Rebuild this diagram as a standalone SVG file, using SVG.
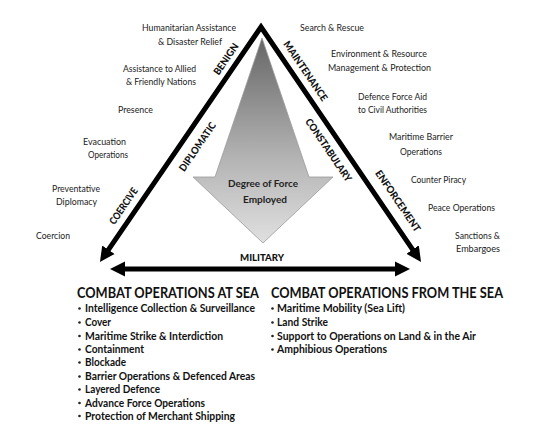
<svg xmlns="http://www.w3.org/2000/svg" width="546" height="427" viewBox="0 0 546 427">
<defs>
<style>
.sm{font-family:Lato,"Open Sans","Liberation Sans",sans-serif;font-size:9px;fill:#222;text-anchor:middle}
.lbl{font-family:Lato,"Open Sans","Liberation Sans",sans-serif;font-size:10px;font-weight:900;fill:#111;text-anchor:middle}
.hd{font-family:Lato,"Open Sans","Liberation Sans",sans-serif;font-size:15px;font-weight:bold;fill:#111}
.bl{font-family:Lato,"Open Sans","Liberation Sans",sans-serif;font-size:11px;font-weight:bold;fill:#111}
.ln{fill:none;stroke:#000;stroke-width:5;stroke-linejoin:miter;stroke-miterlimit:10}
.dot{fill:#222}
</style>
<marker id="ah" markerUnits="userSpaceOnUse" markerWidth="20" markerHeight="20" viewBox="0 -10 20 20" refX="5" refY="0" orient="auto-start-reverse">
<path d="M0,-7.5 L15,0 L0,7.5 z" fill="#000"/>
</marker>
<linearGradient id="gg" gradientUnits="userSpaceOnUse" x1="0" y1="38" x2="0" y2="243">
<stop offset="0" stop-color="#666"/>
<stop offset="0.6" stop-color="#b5b5b5"/>
<stop offset="1" stop-color="#e0e0e0"/>
</linearGradient>
</defs>
<rect width="546" height="427" fill="#fff"/>

<g id="force-arrow">
<polygon points="262,38 309,177 333,177 263,243 193,177 215,177" fill="url(#gg)" stroke="#9a9a9a" stroke-width="0.8"/>
<text class="sm" x="263" y="187" font-size="11" font-weight="bold" textLength="70" lengthAdjust="spacingAndGlyphs">Degree of Force</text>
<text class="sm" x="265" y="203" font-size="11" font-weight="bold" textLength="44" lengthAdjust="spacingAndGlyphs">Employed</text>
</g>

<g id="connectors">
<polyline class="ln" points="105.6,253.8 261,27 415.4,253.7" marker-start="url(#ah)" marker-end="url(#ah)"/>
<line class="ln" x1="120" y1="269" x2="400" y2="269" marker-start="url(#ah)" marker-end="url(#ah)"/>
</g>

<g id="edge-labels">
<text class="lbl" transform="translate(226,59) rotate(-55.6)" dy="0.35em" textLength="36" lengthAdjust="spacingAndGlyphs">BENIGN</text>
<text class="lbl" transform="translate(197.5,146.7) rotate(-55.6)" dy="0.35em" textLength="57" lengthAdjust="spacingAndGlyphs">DIPLOMATIC</text>
<text class="lbl" transform="translate(123.5,206) rotate(-55.6)" dy="0.35em" textLength="42" lengthAdjust="spacingAndGlyphs">COERCIVE</text>
<text class="lbl" transform="translate(305.5,71) rotate(55.7)" dy="0.35em" textLength="70" lengthAdjust="spacingAndGlyphs">MAINTENANCE</text>
<text class="lbl" transform="translate(328.5,150) rotate(55.7)" dy="0.35em" textLength="74" lengthAdjust="spacingAndGlyphs">CONSTABULARY</text>
<text class="lbl" transform="translate(398,201) rotate(55.7)" dy="0.35em" textLength="72" lengthAdjust="spacingAndGlyphs">ENFORCEMENT</text>
<text class="lbl" x="262" y="261" textLength="44" lengthAdjust="spacingAndGlyphs">MILITARY</text>
</g>

<g id="left-tasks">
<text class="sm" x="189" y="31" textLength="94" lengthAdjust="spacingAndGlyphs">Humanitarian Assistance</text>
<text class="sm" x="190" y="45" textLength="64" lengthAdjust="spacingAndGlyphs">&amp; Disaster Relief</text>
<text class="sm" x="159.5" y="72" textLength="73" lengthAdjust="spacingAndGlyphs">Assistance to Allied</text>
<text class="sm" x="161" y="85" textLength="70" lengthAdjust="spacingAndGlyphs">&amp; Friendly Nations</text>
<text class="sm" x="135.5" y="113" textLength="35" lengthAdjust="spacingAndGlyphs">Presence</text>
<text class="sm" x="104.5" y="145" textLength="43" lengthAdjust="spacingAndGlyphs">Evacuation</text>
<text class="sm" x="108" y="158" textLength="40" lengthAdjust="spacingAndGlyphs">Operations</text>
<text class="sm" x="76" y="192" textLength="48" lengthAdjust="spacingAndGlyphs">Preventative</text>
<text class="sm" x="76.5" y="205" textLength="41" lengthAdjust="spacingAndGlyphs">Diplomacy</text>
<text class="sm" x="53" y="239" textLength="34" lengthAdjust="spacingAndGlyphs">Coercion</text>
</g>

<g id="right-tasks">
<text class="sm" x="332" y="31" textLength="64" lengthAdjust="spacingAndGlyphs">Search &amp; Rescue</text>
<text class="sm" x="379" y="57" textLength="96" lengthAdjust="spacingAndGlyphs">Environment &amp; Resource</text>
<text class="sm" x="379.5" y="71" textLength="103" lengthAdjust="spacingAndGlyphs">Management &amp; Protection</text>
<text class="sm" x="392.5" y="100" textLength="69" lengthAdjust="spacingAndGlyphs">Defence Force Aid</text>
<text class="sm" x="392.5" y="113" textLength="69" lengthAdjust="spacingAndGlyphs">to Civil Authorities</text>
<text class="sm" x="421" y="140" textLength="64" lengthAdjust="spacingAndGlyphs">Maritime Barrier</text>
<text class="sm" x="421" y="155" textLength="42" lengthAdjust="spacingAndGlyphs">Operations</text>
<text class="sm" x="438.5" y="183" textLength="55" lengthAdjust="spacingAndGlyphs">Counter Piracy</text>
<text class="sm" x="461.5" y="211" textLength="67" lengthAdjust="spacingAndGlyphs">Peace Operations</text>
<text class="sm" x="477.5" y="239" textLength="45" lengthAdjust="spacingAndGlyphs">Sanctions &amp;</text>
<text class="sm" x="478" y="252" textLength="44" lengthAdjust="spacingAndGlyphs">Embargoes</text>
</g>

<g id="combat-at-sea">
<text class="hd" x="77" y="298" textLength="182" lengthAdjust="spacingAndGlyphs">COMBAT OPERATIONS AT SEA</text>
<circle class="dot" cx="79.5" cy="308.5" r="1.3"/>
<circle class="dot" cx="79.5" cy="322.5" r="1.3"/>
<circle class="dot" cx="79.5" cy="336" r="1.3"/>
<circle class="dot" cx="79.5" cy="349.5" r="1.3"/>
<circle class="dot" cx="79.5" cy="362.5" r="1.3"/>
<circle class="dot" cx="79.5" cy="376.5" r="1.3"/>
<circle class="dot" cx="79.5" cy="389.5" r="1.3"/>
<circle class="dot" cx="79.5" cy="403" r="1.3"/>
<circle class="dot" cx="79.5" cy="416" r="1.3"/>
<g class="bl">
<text x="85" y="312" textLength="170" lengthAdjust="spacingAndGlyphs">Intelligence Collection &amp; Surveillance</text>
<text x="85" y="326" textLength="26" lengthAdjust="spacingAndGlyphs">Cover</text>
<text x="85" y="339.5" textLength="138" lengthAdjust="spacingAndGlyphs">Maritime Strike &amp; Interdiction</text>
<text x="85" y="353" textLength="59" lengthAdjust="spacingAndGlyphs">Containment</text>
<text x="85" y="366" textLength="41" lengthAdjust="spacingAndGlyphs">Blockade</text>
<text x="85" y="380" textLength="170" lengthAdjust="spacingAndGlyphs">Barrier Operations &amp; Defenced Areas</text>
<text x="85" y="393" textLength="75" lengthAdjust="spacingAndGlyphs">Layered Defence</text>
<text x="85" y="406.5" textLength="120" lengthAdjust="spacingAndGlyphs">Advance Force Operations</text>
<text x="85" y="419.5" textLength="150" lengthAdjust="spacingAndGlyphs">Protection of Merchant Shipping</text>
</g>
</g>

<g id="combat-from-sea">
<text class="hd" x="271" y="298" textLength="232" lengthAdjust="spacingAndGlyphs">COMBAT OPERATIONS FROM THE SEA</text>
<circle class="dot" cx="272.5" cy="308.5" r="1.3"/>
<circle class="dot" cx="272.5" cy="322.5" r="1.3"/>
<circle class="dot" cx="272.5" cy="336" r="1.3"/>
<circle class="dot" cx="272.5" cy="349.5" r="1.3"/>
<g class="bl">
<text x="277" y="312" textLength="128" lengthAdjust="spacingAndGlyphs">Maritime Mobility (Sea Lift)</text>
<text x="277" y="326" textLength="51" lengthAdjust="spacingAndGlyphs">Land Strike</text>
<text x="277" y="339.5" textLength="199" lengthAdjust="spacingAndGlyphs">Support to Operations on Land &amp; in the Air</text>
<text x="277" y="353" textLength="110" lengthAdjust="spacingAndGlyphs">Amphibious Operations</text>
</g>
</g>
</svg>
